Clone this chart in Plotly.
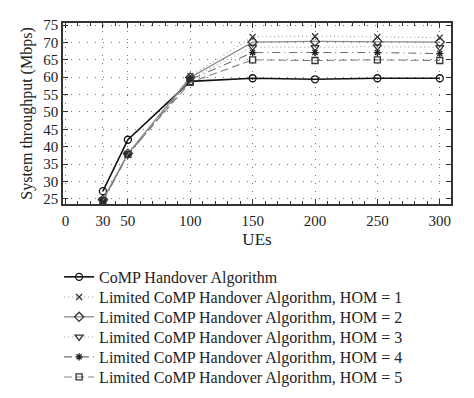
import plotly.graph_objects as go

ues = [30, 50, 100, 150, 200, 250, 300]
comp = [27.2, 42.0, 58.8, 59.7, 59.4, 59.7, 59.7]
hom1 = [24.4, 37.7, 60.3, 71.6, 71.8, 71.6, 71.4]
hom2 = [24.7, 38.0, 59.9, 70.1, 70.3, 70.3, 70.1]
hom3 = [24.6, 37.9, 59.6, 68.7, 68.6, 68.8, 68.6]
hom4 = [24.3, 37.6, 59.3, 67.1, 67.1, 67.1, 66.8]
hom5 = [24.5, 37.8, 58.5, 65.0, 64.8, 65.0, 64.8]
names = ["CoMP Handover Algorithm",
         "Limited CoMP Handover Algorithm, HOM = 1",
         "Limited CoMP Handover Algorithm, HOM = 2",
         "Limited CoMP Handover Algorithm, HOM = 3",
         "Limited CoMP Handover Algorithm, HOM = 4",
         "Limited CoMP Handover Algorithm, HOM = 5"]
x_ticks = [0, 30, 50, 100, 150, 200, 250, 300]
y_ticks = [25, 30, 35, 40, 45, 50, 55, 60, 65, 70, 75]

series = [comp, hom1, hom2, hom3, hom4, hom5]
styles = [
    dict(color="#111111", mcolor="#111111", width=1.6, dash="solid", symbol="circle-open", size=7),
    dict(color="#9a9a9a", mcolor="#333333", width=1.1, dash="1px,3px", symbol="x-thin-open", size=6),
    dict(color="#8a8a8a", mcolor="#333333", width=1.3, dash="solid", symbol="diamond-open", size=7),
    dict(color="#a0a0a0", mcolor="#333333", width=1.1, dash="1px,3px", symbol="triangle-down-open", size=7),
    dict(color="#707070", mcolor="#222222", width=1.1, dash="8px,4px,1px,4px", symbol="asterisk-open", size=6),
    dict(color="#808080", mcolor="#333333", width=1.1, dash="8px,4px", symbol="square-open", size=6),
]

font = "Liberation Serif"
legend_y = [-0.403, -0.514, -0.624, -0.735, -0.845, -0.956]

fig = go.Figure()
layout_legends = {}
for i, (ys, nm, st) in enumerate(zip(series, names, styles)):
    lname = "legend" if i == 0 else f"legend{i+1}"
    fig.add_trace(go.Scatter(
        x=ues, y=ys, name=nm, mode="lines+markers", legend=lname,
        line=dict(color=st["color"], width=st["width"], dash=st["dash"]),
        marker=dict(symbol=st["symbol"], size=st["size"], color=st["mcolor"],
                    line=dict(width=1.3, color=st["mcolor"])),
    ))
    layout_legends[lname] = dict(
        x=-0.010, y=legend_y[i], xanchor="left", yanchor="middle",
        font=dict(family=font, size=16, color="#222222"),
        bgcolor="rgba(0,0,0,0)", itemwidth=30)

fig.update_layout(
    width=474, height=398,
    margin=dict(l=63, r=23, t=23, b=194, autoexpand=False),
    paper_bgcolor="white", plot_bgcolor="white",
    font=dict(family=font, size=14, color="#222222"),
    showlegend=True,
    xaxis=dict(
        range=[-2, 309], tickmode="array", tickvals=x_ticks,
        ticks="inside", ticklen=5, tickcolor="#333",
        showline=True, linecolor="#333", linewidth=1.5, mirror="ticks",
        showgrid=True, gridcolor="#777", griddash="1px,7px", gridwidth=1,
        zeroline=False, ticklabelstandoff=2,
        minor=dict(dtick=10, tick0=0, ticks="inside", ticklen=3, tickcolor="#333", showgrid=False),
        title=dict(text="UEs", font=dict(family=font, size=17), standoff=5),
        tickfont=dict(family=font, size=15),
    ),
    yaxis=dict(
        range=[23.5, 75.6], tickmode="array", tickvals=y_ticks,
        ticks="inside", ticklen=5, tickcolor="#333",
        showline=True, linecolor="#333", linewidth=1.5, mirror="ticks",
        showgrid=True, gridcolor="#777", griddash="1px,7px", gridwidth=1,
        zeroline=False,
        title=dict(text="System throughput (Mbps)", font=dict(family=font, size=16), standoff=7),
        tickfont=dict(family=font, size=15),
    ),
    **layout_legends,
)

fig.write_html("out.html", config={"displayModeBar": False},
               post_script="document.body.style.margin='0';")
